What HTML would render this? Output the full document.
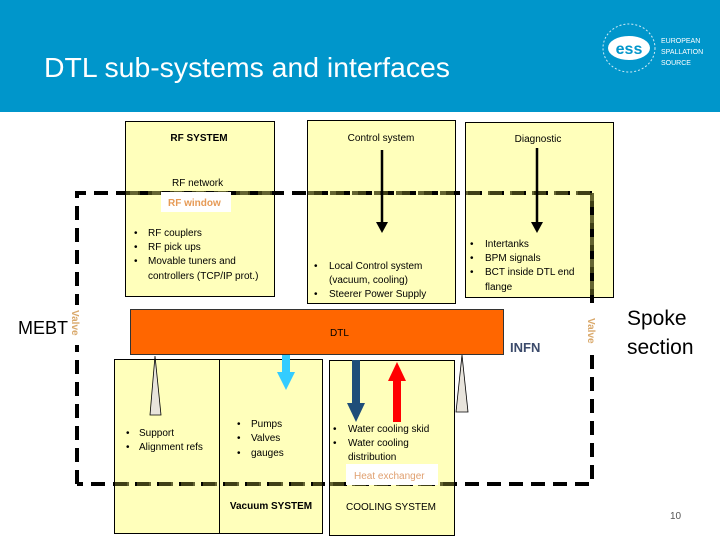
<!DOCTYPE html>
<html><head><meta charset="utf-8"><style>
html,body{margin:0;padding:0;background:#fff;}
svg{display:block;font-family:"Liberation Sans",sans-serif;}
</style></head><body>
<svg width="720" height="540" viewBox="0 0 720 540" xmlns="http://www.w3.org/2000/svg">
<rect x="0" y="0" width="720" height="112" fill="#0096CB"/>
<text x="44" y="77" font-size="28" fill="#fff" textLength="406" lengthAdjust="spacingAndGlyphs">DTL sub-systems and interfaces</text>
<ellipse cx="629" cy="48" rx="26" ry="24" fill="none" stroke="#cfeaf6" stroke-width="1" stroke-dasharray="2,2"/>
<ellipse cx="629" cy="48" rx="21" ry="12" fill="#fff"/>
<text x="629" y="54" font-size="16" font-weight="bold" fill="#0096CB" text-anchor="middle">ess</text>
<text x="661" y="43" font-size="7" fill="#fff">EUROPEAN</text>
<text x="661" y="54" font-size="7" fill="#fff">SPALLATION</text>
<text x="661" y="65" font-size="7" fill="#fff">SOURCE</text>

<g fill="#FFFFBB" stroke="#000" stroke-width="1">
<rect x="125.5" y="121.5" width="149" height="175"/>
<rect x="307.5" y="120.5" width="148" height="183"/>
<rect x="465.5" y="122.5" width="148" height="175"/>
<rect x="114.5" y="359.5" width="105" height="174"/>
<rect x="219.5" y="359.5" width="103" height="174"/>
<rect x="329.5" y="360.5" width="125" height="175"/>
</g>

<g stroke-width="4" fill="none" stroke-dasharray="14,8">
<path d="M77 484 L77 193 L592 193 L592 484 L77 484" stroke="#000"/>
</g>
<g stroke="#4a4a1a" stroke-width="4" stroke-dasharray="14,8" fill="none" opacity="0.85">
<line x1="126" y1="193" x2="274" y2="193"/>
<line x1="308" y1="193" x2="455" y2="193"/>
<line x1="466" y1="193" x2="592" y2="193"/>
<line x1="592" y1="193" x2="592" y2="296"/>
<line x1="115" y1="484" x2="322" y2="484"/>
<line x1="330" y1="484" x2="454" y2="484"/>
</g>

<rect x="161" y="192" width="70" height="20" fill="#fff"/>
<rect x="346" y="464" width="92" height="21" fill="#fff"/>
<rect x="64" y="305" width="24" height="40" fill="#fff"/>
<rect x="582" y="305" width="22" height="44" fill="#fff"/>

<rect x="130.5" y="309.5" width="373" height="45" fill="#FF6600" stroke="#333" stroke-width="1"/>

<polygon points="155,356 150,415 161,415" fill="#E8E4DC" stroke="#000" stroke-width="0.8"/>
<polygon points="462,355 456,412 468,412" fill="#E8E4DC" stroke="#000" stroke-width="0.8"/>

<line x1="382" y1="150" x2="382" y2="224" stroke="#000" stroke-width="2.5"/>
<polygon points="376,222 388,222 382,233" fill="#000"/>
<line x1="537" y1="148" x2="537" y2="224" stroke="#000" stroke-width="2.5"/>
<polygon points="531,222 543,222 537,233" fill="#000"/>

<rect x="282" y="355" width="8" height="18" fill="#33CCFF"/>
<polygon points="277,372 295,372 286,390" fill="#33CCFF"/>
<rect x="352" y="360" width="8" height="45" fill="#1F4E79"/>
<polygon points="347,403 365,403 356,422" fill="#1F4E79"/>
<rect x="393" y="380" width="8" height="42" fill="#FF0000"/>
<polygon points="388,381 406,381 397,362" fill="#FF0000"/>

<g font-size="10" fill="#000">
<text x="199" y="141" text-anchor="middle" font-weight="bold" font-size="10">RF SYSTEM</text>
<text x="381" y="141" text-anchor="middle">Control system</text>
<text x="538" y="142" text-anchor="middle">Diagnostic</text>
<text x="172" y="186">RF network</text>
<text x="168" y="206" fill="#E69A55" font-weight="bold">RF window</text>
<text x="134" y="236">•</text><text x="148" y="236">RF couplers</text>
<text x="134" y="250">•</text><text x="148" y="250">RF pick ups</text>
<text x="134" y="264">•</text><text x="148" y="264">Movable tuners and</text>
<text x="148" y="279">controllers (TCP/IP prot.)</text>
<text x="314" y="269">•</text><text x="329" y="269">Local Control system</text>
<text x="329" y="283">(vacuum, cooling)</text>
<text x="314" y="297">•</text><text x="329" y="297">Steerer Power Supply</text>
<text x="470" y="247">•</text><text x="485" y="247">Intertanks</text>
<text x="470" y="261">•</text><text x="485" y="261">BPM signals</text>
<text x="470" y="275">•</text><text x="485" y="275">BCT inside DTL end</text>
<text x="485" y="290">flange</text>
<text x="330" y="336">DTL</text>
<text x="510" y="352" font-size="13" font-weight="bold" fill="#3B4A6B">INFN</text>
<text x="126" y="436">•</text><text x="139" y="436">Support</text>
<text x="126" y="450">•</text><text x="139" y="450">Alignment refs</text>
<text x="237" y="427">•</text><text x="251" y="427">Pumps</text>
<text x="237" y="441">•</text><text x="251" y="441">Valves</text>
<text x="237" y="456">•</text><text x="251" y="456">gauges</text>
<text x="333" y="432">•</text><text x="348" y="432">Water cooling skid</text>
<text x="333" y="446">•</text><text x="348" y="446">Water cooling</text>
<text x="348" y="460">distribution</text>
<text x="354" y="479" fill="#E0A070">Heat exchanger</text>
<text x="271" y="509" text-anchor="middle" font-weight="bold">Vacuum SYSTEM</text>
<text x="391" y="510" text-anchor="middle">COOLING SYSTEM</text>
<text x="670" y="519" fill="#555">10</text>
</g>
<text x="18" y="334" font-size="18" fill="#000">MEBT</text>
<text x="627" y="325" font-size="21" fill="#000">Spoke</text>
<text x="627" y="354" font-size="21" fill="#000">section</text>
<text transform="translate(72,310) rotate(90)" font-size="10" fill="#D9A86A" font-weight="bold">Valve</text>
<text transform="translate(588,318) rotate(90)" font-size="10" fill="#D9A86A" font-weight="bold">Valve</text>
</svg>
</body></html>
